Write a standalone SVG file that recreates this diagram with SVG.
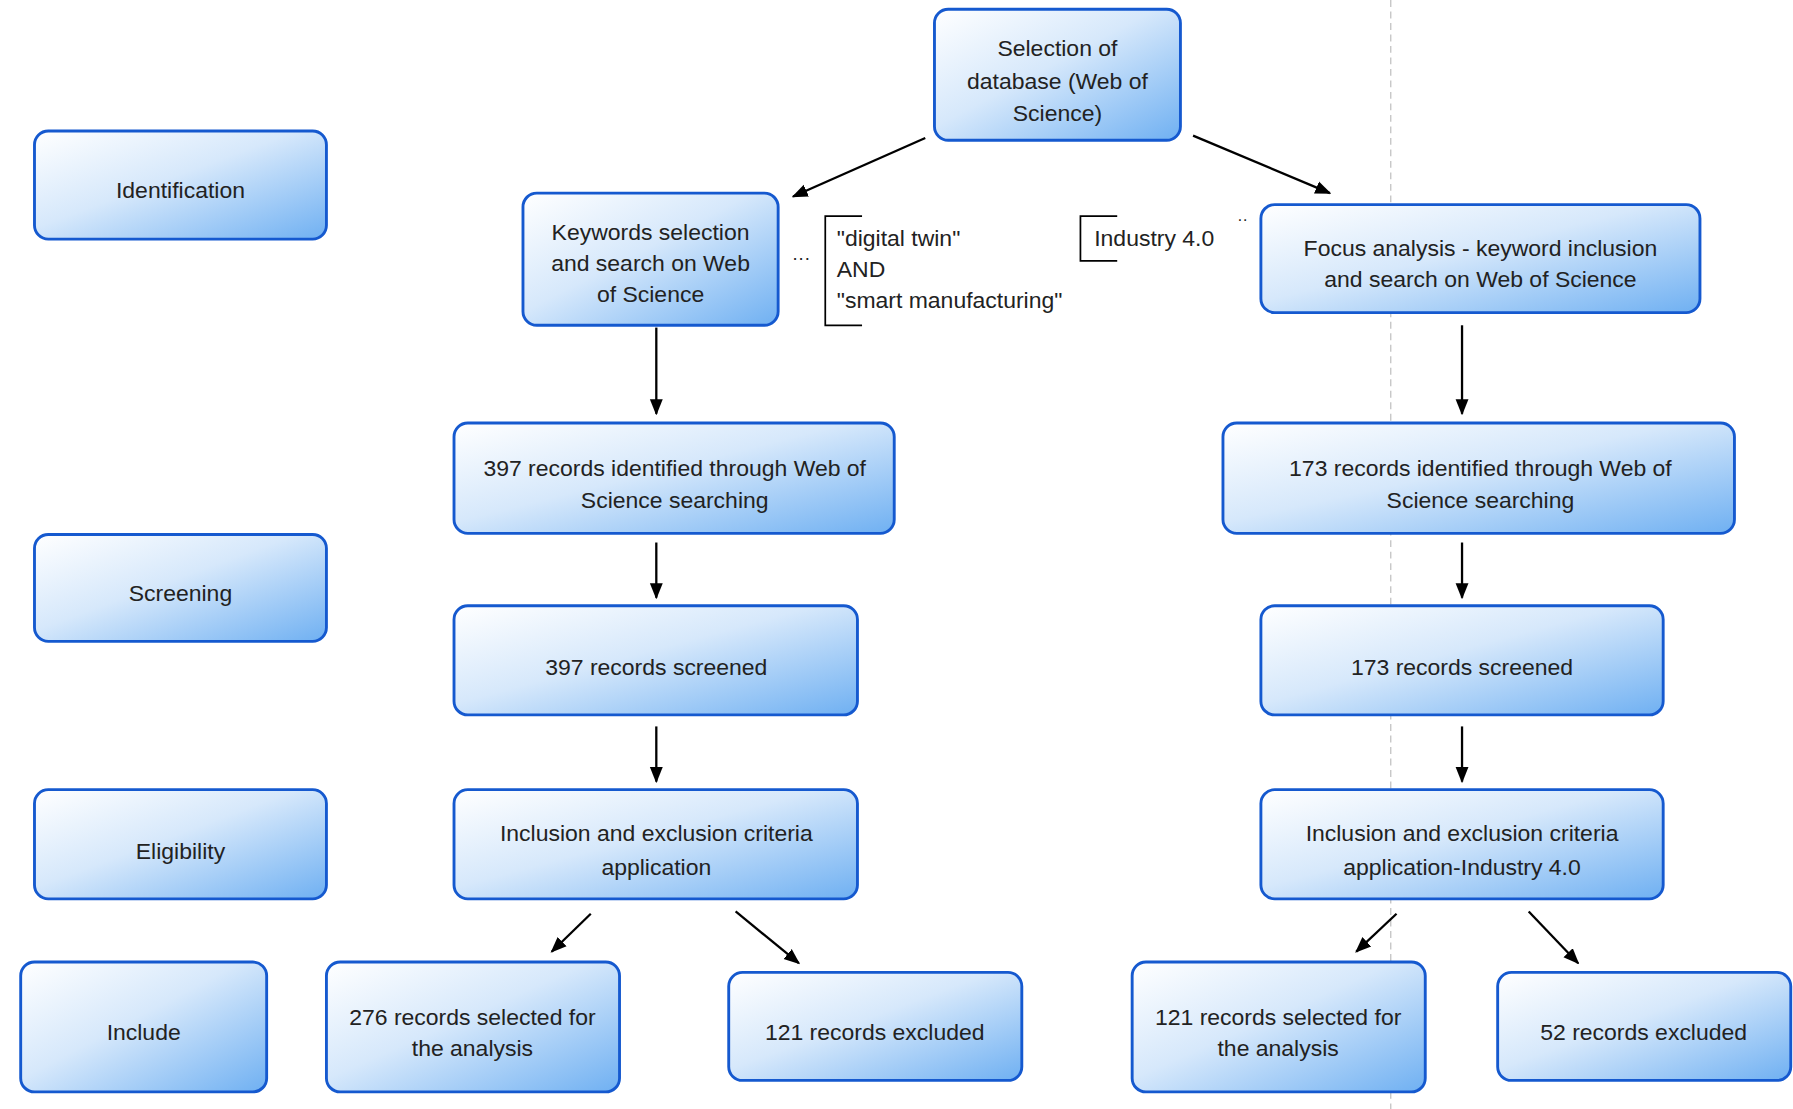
<svg xmlns="http://www.w3.org/2000/svg" width="1793" height="1109" viewBox="0 0 1793 1109">
<defs>
<linearGradient id="g" x1="0" y1="0" x2="1" y2="1">
<stop offset="0" stop-color="#ffffff"/>
<stop offset="0.45" stop-color="#d6e8fb"/>
<stop offset="1" stop-color="#6fb0f2"/>
</linearGradient>
<marker id="ah" viewBox="0 0 10 10" refX="9" refY="5" markerWidth="9" markerHeight="9" markerUnits="userSpaceOnUse" orient="auto"><path d="M0,0 L10,5 L0,10 z" fill="#000"/></marker>
<marker id="a" viewBox="0 0 10 10" refX="9" refY="5" markerWidth="7" markerHeight="7" orient="auto"><path d="M0,1 L10,5 L0,9 z" fill="#000"/></marker>
</defs>
<style>
.n rect{fill:url(#g);stroke:#1559cf;stroke-width:2.5}
text{font-family:"Liberation Sans",Arial,sans-serif;font-size:20px;fill:#222;text-anchor:middle}
.l{text-anchor:start}
.c line{stroke:#000;stroke-width:2;marker-end:url(#a)}
.b{fill:none;stroke:#000;stroke-width:1.5}
</style>
<rect width="1793" height="1109" fill="#fff"/>
<g transform="scale(1.1494)">
<line x1="1210" y1="0" x2="1210" y2="970" stroke="#bbb" stroke-width="1" stroke-dasharray="6,4"/>
<g id="sel" class="n"><rect x="813" y="8" width="214" height="114" rx="12"/><text x="920" y="49">Selection of</text><text x="920" y="77">database (Web of</text><text x="920" y="105">Science)</text></g>
<g id="ident" class="n"><rect x="30" y="114" width="254" height="94" rx="12"/><text x="157" y="172">Identification</text></g>
<g id="kw" class="n"><rect x="455" y="168" width="222" height="115" rx="12"/><text x="566" y="209">Keywords selection</text><text x="566" y="236">and search on Web</text><text x="566" y="263">of Science</text></g>
<g id="focus" class="n"><rect x="1097" y="178" width="382" height="94" rx="12"/><text x="1288" y="223">Focus analysis -  keyword inclusion</text><text x="1288" y="250">and search on Web of Science</text></g>
<g id="id397" class="n"><rect x="395" y="368" width="383" height="96" rx="12"/><text x="587" y="414">397 records identified through Web of</text><text x="587" y="442">Science searching</text></g>
<g id="id173" class="n"><rect x="1064" y="368" width="445" height="96" rx="12"/><text x="1288" y="414">173 records identified through Web of</text><text x="1288" y="442">Science searching</text></g>
<g id="screen" class="n"><rect x="30" y="465" width="254" height="93" rx="12"/><text x="157" y="523">Screening</text></g>
<g id="sc397" class="n"><rect x="395" y="527" width="351" height="95" rx="12"/><text x="571" y="587">397 records screened</text></g>
<g id="sc173" class="n"><rect x="1097" y="527" width="350" height="95" rx="12"/><text x="1272" y="587">173 records screened</text></g>
<g id="elig" class="n"><rect x="30" y="687" width="254" height="95" rx="12"/><text x="157" y="747">Eligibility</text></g>
<g id="inc1" class="n"><rect x="395" y="687" width="351" height="95" rx="12"/><text x="571" y="732">Inclusion and exclusion criteria</text><text x="571" y="761">application</text></g>
<g id="inc2" class="n"><rect x="1097" y="687" width="350" height="95" rx="12"/><text x="1272" y="732">Inclusion and exclusion criteria</text><text x="1272" y="761">application-Industry 4.0</text></g>
<g id="include" class="n"><rect x="18" y="837" width="214" height="113" rx="12"/><text x="125" y="905">Include</text></g>
<g id="s276" class="n"><rect x="284" y="837" width="255" height="113" rx="12"/><text x="411" y="892">276 records selected for</text><text x="411" y="919">the analysis</text></g>
<g id="e121" class="n"><rect x="634" y="846" width="255" height="94" rx="12"/><text x="761" y="905">121 records excluded</text></g>
<g id="s121" class="n"><rect x="985" y="837" width="255" height="113" rx="12"/><text x="1112" y="892">121 records selected for</text><text x="1112" y="919">the analysis</text></g>
<g id="e52" class="n"><rect x="1303" y="846" width="255" height="94" rx="12"/><text x="1430" y="905">52 records excluded</text></g>
<g id="notes">
<path class="b" d="M750,188 H718 V283 H750"/>
<text class="l" x="728" y="214">"digital twin"</text><text class="l" x="728" y="241">AND</text><text class="l" x="728" y="268">"smart manufacturing"</text>
<text x="697" y="230" style="font-size:16px">···</text>
<path class="b" d="M972,188 H940 V227 H972"/>
<text class="l" x="952" y="214">Industry 4.0</text>
<text x="1081" y="196" style="font-size:14px">··</text>
</g>
<g id="connectors" class="c">
<line x1="805" y1="120" x2="690" y2="171"/>
<line x1="1038" y1="118" x2="1157" y2="168"/>
<line x1="571" y1="285" x2="571" y2="360"/>
<line x1="1272" y1="283" x2="1272" y2="360"/>
<line x1="571" y1="472" x2="571" y2="520"/>
<line x1="1272" y1="472" x2="1272" y2="520"/>
<line x1="571" y1="632" x2="571" y2="680"/>
<line x1="1272" y1="632" x2="1272" y2="680"/>
<line x1="514" y1="795" x2="480" y2="828"/>
<line x1="640" y1="793" x2="695" y2="838"/>
<line x1="1215" y1="795" x2="1180" y2="828"/>
<line x1="1330" y1="793" x2="1373" y2="838"/>
</g>
</g>
</svg>
